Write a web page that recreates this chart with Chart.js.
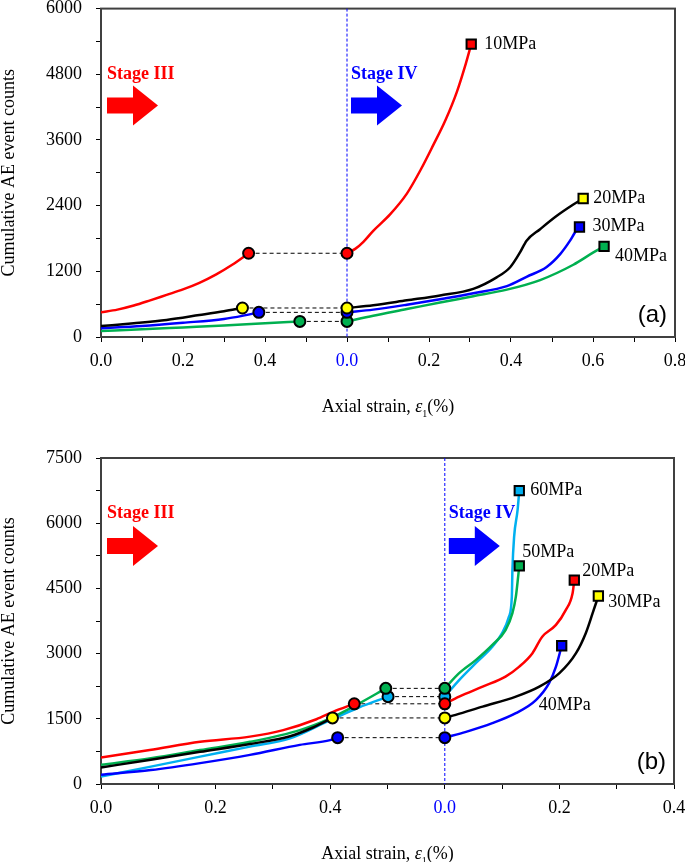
<!DOCTYPE html>
<html>
<head>
<meta charset="utf-8">
<script src="https://cdn.jsdelivr.net/npm/chart.js@4.4.1/dist/chart.umd.min.js"></script>
<style>
  body { margin: 0; background: #fff; width: 685px; height: 862px; overflow: hidden; }
  .panel { position: absolute; left: 0; width: 685px; }
  #panel-a { top: 0; height: 420px; }
  #panel-b { top: 420px; height: 442px; }
</style>
</head>
<body>
<div class="panel" id="panel-a"><canvas id="chart-a"></canvas></div>
<div class="panel" id="panel-b"><canvas id="chart-b"></canvas></div>
<script>
// Stage IV strain restarts at 0.0 at this point of the shared x axis
const STAGE4_START = 0.6;

// ---- Panel (a) ----
const aTickLabels = ['0.0', '0.2', '0.4', '0.0', '0.2', '0.4', '0.6', '0.8'];

const a10S3Strain = [0, 0.04, 0.08, 0.12, 0.16, 0.2, 0.24, 0.28, 0.32, 0.36];
const a10S3Counts = [450, 500, 575, 670, 770, 870, 990, 1140, 1320, 1530];
const a10S4Strain = [0, 0.02, 0.04, 0.064, 0.105, 0.146, 0.18, 0.21, 0.24, 0.268, 0.29, 0.303];
const a10S4Counts = [1530, 1610, 1740, 1940, 2240, 2620, 3060, 3500, 3960, 4480, 5000, 5350];

const a20S3Strain = [0, 0.08, 0.16, 0.24, 0.3, 0.345];
const a20S3Counts = [200, 250, 310, 400, 470, 530];
const a20S4Strain = [0, 0.064, 0.146, 0.227, 0.308, 0.365, 0.398, 0.422, 0.438, 0.471, 0.511, 0.552, 0.576];
const a20S4Counts = [530, 580, 670, 760, 880, 1090, 1275, 1545, 1760, 1970, 2210, 2420, 2530];

const a30S3Strain = [0, 0.1, 0.2, 0.3, 0.35, 0.385];
const a30S3Counts = [160, 200, 260, 330, 395, 450];
const a30S4Strain = [0, 0.064, 0.146, 0.227, 0.308, 0.39, 0.438, 0.487, 0.52, 0.544, 0.556, 0.567];
const a30S4Counts = [450, 500, 590, 690, 800, 930, 1100, 1280, 1515, 1760, 1910, 2010];

const a40S3Strain = [0, 0.1, 0.2, 0.3, 0.4, 0.485];
const a40S3Counts = [110, 140, 175, 210, 250, 285];
const a40S4Strain = [0, 0.064, 0.146, 0.227, 0.308, 0.39, 0.471, 0.552, 0.601, 0.627];
const a40S4Counts = [285, 390, 510, 630, 745, 865, 1040, 1320, 1545, 1655];

// ---- Panel (b) ----
const bTickLabels = ['0.0', '0.2', '0.4', '0.0', '0.2', '0.4'];

const b20S3Strain = [0, 0.085, 0.173, 0.26, 0.318, 0.376, 0.405, 0.442];
const b20S3Counts = [610, 780, 970, 1090, 1240, 1490, 1660, 1845];
const b20S4Strain = [0, 0.025, 0.066, 0.106, 0.13, 0.153, 0.17, 0.194, 0.211, 0.223, 0.226];
const b20S4Counts = [1845, 2010, 2240, 2470, 2700, 3010, 3390, 3660, 4000, 4390, 4690];

const b30S3Strain = [0, 0.087, 0.173, 0.26, 0.33, 0.37, 0.404];
const b30S3Counts = [380, 560, 740, 920, 1100, 1300, 1520];
const b30S4Strain = [0, 0.019, 0.066, 0.124, 0.165, 0.2, 0.229, 0.246, 0.258, 0.268];
const b30S4Counts = [1520, 1590, 1780, 2010, 2240, 2550, 3010, 3470, 3930, 4325];

const b40S3Strain = [0, 0.087, 0.173, 0.26, 0.347, 0.4, 0.413];
const b40S3Counts = [210, 320, 480, 670, 900, 1010, 1066];
const b40S4Strain = [0, 0.037, 0.083, 0.124, 0.159, 0.182, 0.194, 0.204];
const b40S4Counts = [1066, 1200, 1400, 1630, 1930, 2320, 2700, 3180];

const b50S3Strain = [0, 0.087, 0.173, 0.26, 0.347, 0.4, 0.45, 0.497];
const b50S3Counts = [440, 590, 780, 970, 1240, 1510, 1850, 2200];
const b50S4Strain = [0, 0.025, 0.054, 0.083, 0.106, 0.118, 0.124, 0.128, 0.13];
const b50S4Counts = [2200, 2550, 2850, 3200, 3540, 3930, 4310, 4770, 5020];

const b60S3Strain = [0, 0.087, 0.173, 0.26, 0.33, 0.4, 0.45, 0.501];
const b60S3Counts = [170, 400, 630, 860, 1050, 1470, 1760, 2010];
const b60S4Strain = [0, 0.025, 0.054, 0.083, 0.1, 0.112, 0.117, 0.118, 0.121, 0.127, 0.13];
const b60S4Counts = [2010, 2390, 2780, 3160, 3470, 3850, 4310, 4920, 5690, 6300, 6750];

const SERIF = '"Liberation Serif", "Times New Roman", serif';
const RED = '#ff0000', BLUE = '#0000ff', BLACK = '#000000', GREEN = '#00b050', CYAN = '#00b0f0', YELLOW = '#ffff00';

function pts(xs, ys, shift) {
  return xs.map((x, i) => ({ x: x + shift, y: ys[i] }));
}

function drawArrow(ctx, x, y, color) {
  ctx.save();
  ctx.fillStyle = color;
  ctx.beginPath();
  ctx.moveTo(x, y - 8);
  ctx.lineTo(x + 26, y - 8);
  ctx.lineTo(x + 26, y - 20);
  ctx.lineTo(x + 51, y);
  ctx.lineTo(x + 26, y + 20);
  ctx.lineTo(x + 26, y + 8);
  ctx.lineTo(x, y + 8);
  ctx.closePath();
  ctx.fill();
  ctx.restore();
}

function makePanel(canvasId, p) {
  const datasets = [];
  p.series.forEach(s => {
    const s3 = pts(s.s3x, s.s3y, 0);
    const s4 = pts(s.s4x, s.s4y, STAGE4_START);
    datasets.push({
      data: [s3[s3.length - 1], s4[0]],
      borderColor: '#000', borderWidth: 1, borderDash: [4, 3],
      pointRadius: 0, order: 3
    });
    [s3, s4].forEach(d => datasets.push({
      data: d, borderColor: s.color, borderWidth: 2.5,
      pointRadius: 0, cubicInterpolationMode: 'monotone', order: 2
    }));
    datasets.push({
      data: [s3[s3.length - 1], s4[0], s4[s4.length - 1]],
      showLine: false, order: 1,
      pointStyle: ['circle', 'circle', 'rect'],
      pointRadius: [5.5, 5.5, 6.6],
      backgroundColor: s.marker, borderColor: '#000', borderWidth: 2,
      seriesLabel: s.label, labelDx: s.dx, labelDy: s.dy
    });
  });

  const decor = {
    id: 'decor',
    beforeDatasetsDraw(chart) {
      const { ctx, chartArea: a, scales } = chart;
      ctx.save();
      ctx.strokeStyle = '#404040';
      ctx.lineWidth = 2;
      ctx.strokeRect(a.left, a.top, a.right - a.left, a.bottom - a.top);
      const xs = scales.x.getPixelForValue(STAGE4_START);
      ctx.strokeStyle = BLUE;
      ctx.lineWidth = 1;
      ctx.setLineDash([3, 2]);
      ctx.beginPath();
      ctx.moveTo(xs, a.top);
      ctx.lineTo(xs, a.bottom);
      ctx.stroke();
      ctx.restore();
    },
    afterDraw(chart) {
      const { ctx, chartArea: a, scales } = chart;
      const xs = scales.x.getPixelForValue(STAGE4_START);
      ctx.save();
      // stage captions and arrows
      ctx.font = 'bold 18px ' + SERIF;
      ctx.textBaseline = 'alphabetic';
      ctx.fillStyle = RED;
      ctx.fillText('Stage III', a.left + 6, a.top + p.stageTextDy);
      ctx.fillStyle = BLUE;
      ctx.fillText('Stage IV', xs + 4, a.top + p.stageTextDy);
      drawArrow(ctx, a.left + 6, a.top + p.arrowDy, RED);
      drawArrow(ctx, xs + 4, a.top + p.arrowDy, BLUE);

      // pressure labels next to the end squares
      ctx.font = '18px ' + SERIF;
      ctx.fillStyle = '#000';
      ctx.textBaseline = 'middle';
      chart.data.datasets.forEach((ds, i) => {
        if (!ds.seriesLabel) return;
        const el = chart.getDatasetMeta(i).data[2];
        ctx.fillText(ds.seriesLabel, el.x + ds.labelDx, el.y + ds.labelDy);
      });

      // panel letter
      ctx.font = '24px "Liberation Sans", Arial, sans-serif';
      ctx.textAlign = 'right';
      ctx.fillText(p.letter, a.right - 8, a.bottom - 22);

      // y axis title
      ctx.save();
      ctx.translate(9, (a.top + a.bottom) / 2);
      ctx.rotate(-Math.PI / 2);
      ctx.textAlign = 'center';
      ctx.font = '18px ' + SERIF;
      ctx.fillText('Cumulative AE event counts', 0, 0);
      ctx.restore();

      // x axis title: Axial strain, ε1(%)
      const parts = [
        { t: 'Axial strain, ', f: '18px ' + SERIF, dy: 0 },
        { t: 'ε', f: 'italic 18px ' + SERIF, dy: 0 },
        { t: '1', f: '10px ' + SERIF, dy: 5 },
        { t: '(%)', f: '18px ' + SERIF, dy: 0 }
      ];
      ctx.textAlign = 'left';
      ctx.textBaseline = 'alphabetic';
      let w = 0;
      parts.forEach(q => { ctx.font = q.f; q.w = ctx.measureText(q.t).width; w += q.w; });
      let x = (a.left + a.right) / 2 - w / 2;
      const base = a.bottom + 75;
      parts.forEach(q => { ctx.font = q.f; ctx.fillText(q.t, x, base + q.dy); x += q.w; });
      ctx.restore();
    }
  };

  return new Chart(document.getElementById(canvasId), {
    type: 'line',
    data: { datasets },
    plugins: [decor],
    options: {
      responsive: true,
      maintainAspectRatio: false,
      animation: false,
      layout: { padding: { left: 0, top: p.plotTop, right: 685 - p.plotRight, bottom: 0 } },
      plugins: { legend: { display: false }, tooltip: { enabled: false } },
      scales: {
        x: {
          type: 'linear', min: 0, max: p.xMax,
          afterFit: s => { s.height = p.height - p.plotBottom; s.paddingLeft = 0; s.paddingRight = 0; },
          grid: { drawOnChartArea: false, tickLength: 5, tickColor: '#000', tickWidth: 1 },
          border: { color: '#000', width: 1.5 },
          ticks: {
            stepSize: 0.1, autoSkip: false, maxRotation: 0, padding: 8,
            font: { family: SERIF, size: 18 },
            color: c => Math.abs(c.tick.value - STAGE4_START) < 1e-6 ? BLUE : '#000',
            callback: v => {
              const k = Math.round(v * 10);
              return k % 2 ? '' : p.tickLabels[k / 2];
            }
          }
        },
        y: {
          min: 0, max: p.yMax,
          afterFit: s => { s.width = p.plotLeft; s.paddingTop = 0; s.paddingBottom = 0; },
          grid: { drawOnChartArea: false, tickLength: 5, tickColor: '#000', tickWidth: 1 },
          border: { color: '#000', width: 1.5 },
          ticks: {
            stepSize: p.yStep / 2, padding: 14,
            font: { family: SERIF, size: 18 }, color: '#000',
            callback: v => (v % p.yStep === 0 ? String(v) : '')
          }
        }
      }
    }
  });
}

makePanel('chart-a', {
  height: 420, plotLeft: 101, plotTop: 6, plotRight: 675, plotBottom: 337,
  xMax: 1.4, yMax: 6000, yStep: 1200, tickLabels: aTickLabels, letter: '(a)',
  stageTextDy: 70, arrowDy: 97,
  series: [
    { label: '10MPa', color: RED, marker: RED, s3x: a10S3Strain, s3y: a10S3Counts, s4x: a10S4Strain, s4y: a10S4Counts, dx: 13, dy: 0 },
    { label: '20MPa', color: BLACK, marker: YELLOW, s3x: a20S3Strain, s3y: a20S3Counts, s4x: a20S4Strain, s4y: a20S4Counts, dx: 10, dy: 0 },
    { label: '30MPa', color: BLUE, marker: BLUE, s3x: a30S3Strain, s3y: a30S3Counts, s4x: a30S4Strain, s4y: a30S4Counts, dx: 13, dy: -1 },
    { label: '40MPa', color: GREEN, marker: GREEN, s3x: a40S3Strain, s3y: a40S3Counts, s4x: a40S4Strain, s4y: a40S4Counts, dx: 11, dy: 10 }
  ]
});

makePanel('chart-b', {
  height: 442, plotLeft: 101, plotTop: 38, plotRight: 674, plotBottom: 364,
  xMax: 1.0, yMax: 7500, yStep: 1500, tickLabels: bTickLabels, letter: '(b)',
  stageTextDy: 60, arrowDy: 88,
  series: [
    { label: '20MPa', color: RED, marker: RED, s3x: b20S3Strain, s3y: b20S3Counts, s4x: b20S4Strain, s4y: b20S4Counts, dx: 8, dy: -9 },
    { label: '30MPa', color: BLACK, marker: YELLOW, s3x: b30S3Strain, s3y: b30S3Counts, s4x: b30S4Strain, s4y: b30S4Counts, dx: 10, dy: 6 },
    { label: '40MPa', color: BLUE, marker: BLUE, s3x: b40S3Strain, s3y: b40S3Counts, s4x: b40S4Strain, s4y: b40S4Counts, dx: -23, dy: 59 },
    { label: '50MPa', color: GREEN, marker: GREEN, s3x: b50S3Strain, s3y: b50S3Counts, s4x: b50S4Strain, s4y: b50S4Counts, dx: 3, dy: -14 },
    { label: '60MPa', color: CYAN, marker: CYAN, s3x: b60S3Strain, s3y: b60S3Counts, s4x: b60S4Strain, s4y: b60S4Counts, dx: 11, dy: 0 }
  ]
});
</script>
</body>
</html>
